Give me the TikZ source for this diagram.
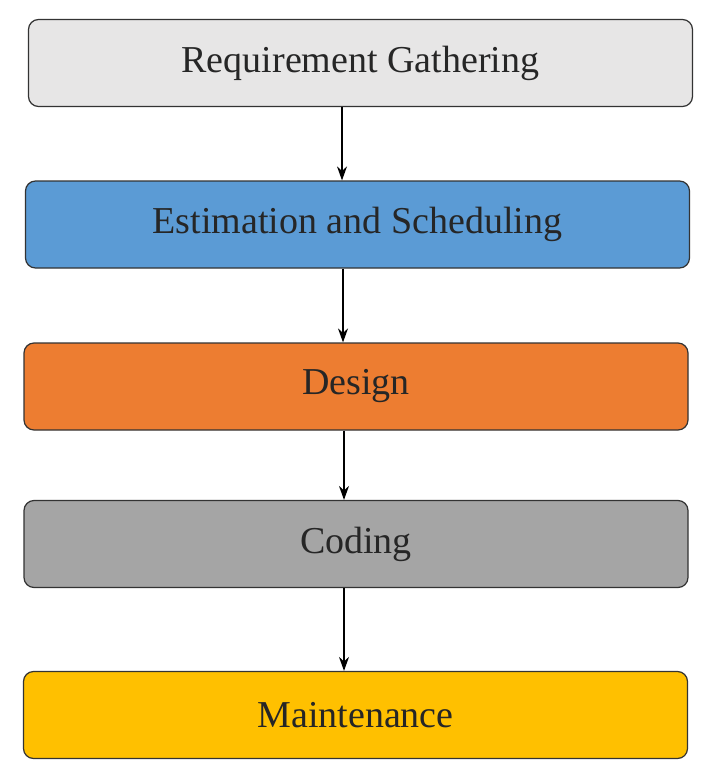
\documentclass[tikz,border=0pt]{standalone}
\usepackage{fontspec}
\setmainfont{Liberation Serif}
\usetikzlibrary{arrows.meta}
\definecolor{reqgray}{HTML}{E7E6E6}
\definecolor{estblue}{HTML}{5B9BD5}
\definecolor{desorange}{HTML}{ED7D31}
\definecolor{codgray}{HTML}{A5A5A5}
\definecolor{maingold}{HTML}{FFC000}
\tikzset{
	phase/.style={draw=black!80, line width=1.2pt, rounded corners=10pt,
		minimum width=664pt, minimum height=87pt, inner sep=0pt,
		font=\fontsize{38}{44}\selectfont, text=black!85},
	flow/.style={-{Stealth[length=14pt,width=10pt]}, line width=1.5pt}
}
\begin{document}
\begin{tikzpicture}[x=1pt,y=-1pt]
	\useasboundingbox (0,0) rectangle (720,762);
	\node[phase, fill=reqgray] (req) at (360.5,63) {Requirement Gathering};
	\node[phase, fill=estblue] (est) at (357.5,224.5) {Estimation and Scheduling};
	\node[phase, fill=desorange] (des) at (356,386.5) {Design};
	\node[phase, fill=codgray] (cod) at (356,544) {Coding};
	\node[phase, fill=maingold] (mai) at (355.5,715) {Maintenance};
	\draw[flow] (req.south -| 342,0) -- (est.north -| 342,0);
	\draw[flow] (est.south -| 343,0) -- (des.north -| 343,0);
	\draw[flow] (des.south -| 344,0) -- (cod.north -| 344,0);
	\draw[flow] (cod.south -| 344,0) -- (mai.north -| 344,0);
\end{tikzpicture}
\end{document}
